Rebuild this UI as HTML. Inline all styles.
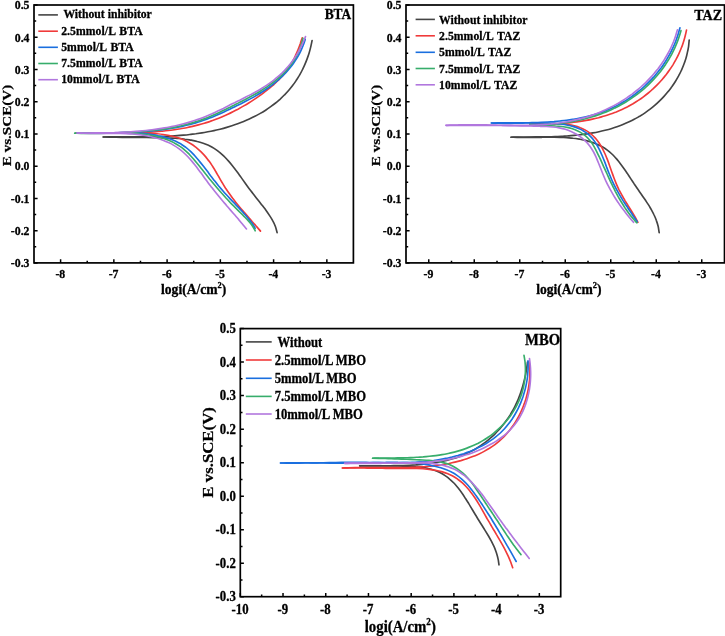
<!DOCTYPE html>
<html><head><meta charset="utf-8"><title>Polarization curves</title>
<style>
html,body{margin:0;padding:0;background:#fff}
svg{display:block}
text{font-family:"Liberation Serif",serif;font-weight:bold;fill:#000;stroke:#000;stroke-width:0.28px;stroke-linejoin:round}
</style></head><body>
<svg width="725" height="636" viewBox="0 0 725 636">
<rect width="725" height="636" fill="#fff"/>
<g id="plot-bta">
<path d="M103.2 137.0C104.2 137.0 107.3 137.0 109.3 136.9C111.4 136.9 113.4 136.9 115.5 136.9C117.6 136.9 119.6 136.9 121.7 136.9C123.7 136.9 125.8 136.9 127.9 136.9C129.9 136.9 132.0 136.9 134.0 136.9C136.1 136.9 138.2 136.9 140.2 136.9C142.3 136.8 144.4 136.8 146.4 136.8C148.5 136.8 150.6 136.7 152.6 136.7C154.7 136.7 156.8 136.6 158.8 136.6C160.9 136.5 163.0 136.4 165.0 136.3C167.1 136.3 169.1 136.2 171.2 136.0C173.3 135.9 175.3 135.8 177.4 135.6C179.4 135.5 181.5 135.3 183.5 135.1C185.6 135.0 187.6 134.8 189.7 134.5C191.7 134.3 193.7 134.0 195.8 133.8C197.8 133.5 199.8 133.2 201.9 132.9C203.9 132.6 205.9 132.2 207.9 131.8C209.9 131.4 212.0 131.0 214.0 130.6C216.0 130.2 218.0 129.7 220.0 129.2C222.0 128.7 224.0 128.2 225.9 127.6C227.9 127.0 229.9 126.4 231.9 125.8C233.8 125.2 235.8 124.5 237.7 123.8C239.7 123.1 241.6 122.3 243.6 121.5C245.5 120.7 247.4 119.9 249.3 119.0C251.1 118.2 253.0 117.3 254.9 116.3C256.7 115.4 258.5 114.4 260.3 113.4C262.1 112.4 263.9 111.3 265.6 110.2C267.3 109.1 269.0 107.9 270.7 106.7C272.4 105.5 274.0 104.3 275.6 103.0C277.2 101.8 278.7 100.4 280.2 99.1C281.7 97.7 283.2 96.3 284.6 94.8C286.0 93.4 287.4 91.9 288.8 90.3C290.1 88.8 291.4 87.2 292.6 85.6C293.8 84.0 295.0 82.3 296.1 80.6C297.3 78.9 298.3 77.1 299.4 75.4C300.4 73.6 301.4 71.8 302.3 70.0C303.2 68.1 304.1 66.3 304.9 64.4C305.7 62.5 306.5 60.5 307.2 58.6C307.9 56.6 308.6 54.7 309.2 52.7C309.8 50.7 310.3 48.7 310.8 46.6C311.3 44.6 311.9 41.5 312.1 40.5" fill="none" stroke="#444444" stroke-width="1.65" stroke-linecap="round" stroke-linejoin="round"/>
<path d="M103.2 137.0C104.3 137.0 107.5 137.1 109.6 137.1C111.8 137.2 113.9 137.2 116.0 137.2C118.1 137.3 120.1 137.3 122.2 137.3C124.3 137.3 126.3 137.4 128.4 137.4C130.4 137.4 132.5 137.4 134.5 137.4C136.6 137.4 138.6 137.5 140.7 137.5C142.7 137.5 144.7 137.5 146.8 137.5C148.9 137.6 150.9 137.6 153.0 137.6C155.1 137.6 157.2 137.7 159.3 137.7C161.4 137.8 163.5 137.8 165.7 137.9C167.8 137.9 169.9 138.0 172.1 138.1C174.2 138.2 176.4 138.4 178.5 138.5C180.7 138.7 182.8 138.9 184.9 139.2C187.1 139.4 189.2 139.8 191.2 140.1C193.3 140.5 195.3 140.9 197.3 141.5C199.3 142.0 201.3 142.6 203.2 143.2C205.2 143.9 207.0 144.7 208.9 145.5C210.7 146.4 212.4 147.3 214.1 148.4C215.8 149.5 217.5 150.6 219.0 151.9C220.6 153.2 222.1 154.5 223.6 155.9C225.1 157.3 226.5 158.9 227.9 160.4C229.3 161.9 230.7 163.6 232.0 165.2C233.3 166.8 234.6 168.5 235.9 170.3C237.2 172.0 238.5 173.7 239.7 175.4C241.0 177.2 242.2 179.0 243.5 180.7C244.7 182.4 245.9 184.2 247.2 185.9C248.4 187.6 249.7 189.3 251.0 191.0C252.2 192.6 253.5 194.2 254.8 195.9C256.0 197.5 257.3 199.1 258.6 200.7C259.9 202.3 261.1 204.0 262.4 205.6C263.6 207.2 264.9 208.8 266.1 210.5C267.3 212.2 268.5 213.9 269.6 215.6C270.7 217.3 271.9 219.1 272.8 220.9C273.8 222.7 274.7 224.6 275.4 226.5C276.1 228.5 276.8 231.6 277.1 232.6" fill="none" stroke="#444444" stroke-width="1.65" stroke-linecap="round" stroke-linejoin="round"/>
<path d="M76.0 133.0C77.0 133.0 80.1 133.0 82.1 133.0C84.2 133.0 86.2 133.0 88.3 133.0C90.3 133.0 92.4 133.0 94.4 133.0C96.5 133.0 98.5 133.0 100.6 133.0C102.6 133.0 104.7 133.1 106.8 133.1C108.8 133.1 110.9 133.1 112.9 133.1C115.0 133.1 117.1 133.1 119.1 133.1C121.2 133.1 123.3 133.0 125.3 133.0C127.4 133.0 129.4 133.0 131.5 132.9C133.6 132.9 135.6 132.8 137.7 132.8C139.7 132.7 141.8 132.6 143.9 132.5C145.9 132.4 148.0 132.3 150.0 132.2C152.1 132.1 154.1 131.9 156.1 131.7C158.2 131.6 160.2 131.4 162.3 131.2C164.3 131.0 166.3 130.8 168.4 130.5C170.4 130.3 172.4 130.0 174.4 129.7C176.5 129.4 178.5 129.1 180.5 128.8C182.5 128.4 184.5 128.1 186.5 127.7C188.5 127.3 190.5 126.9 192.5 126.4C194.4 125.9 196.4 125.4 198.4 124.9C200.4 124.4 202.3 123.9 204.3 123.3C206.2 122.7 208.2 122.0 210.1 121.4C212.1 120.7 214.0 120.0 215.9 119.3C217.8 118.6 219.8 117.8 221.7 117.0C223.6 116.2 225.4 115.4 227.3 114.5C229.2 113.7 231.1 112.8 232.9 111.8C234.8 110.9 236.6 109.9 238.4 109.0C240.2 108.0 242.0 107.0 243.8 105.9C245.6 104.9 247.4 103.8 249.1 102.7C250.9 101.6 252.6 100.5 254.3 99.4C256.1 98.2 257.8 97.0 259.4 95.8C261.1 94.7 262.8 93.4 264.4 92.2C266.0 91.0 267.6 89.7 269.2 88.4C270.8 87.1 272.3 85.8 273.9 84.5C275.4 83.1 276.9 81.8 278.3 80.3C279.7 78.9 281.1 77.5 282.5 76.0C283.8 74.4 285.1 72.9 286.3 71.3C287.5 69.6 288.7 68.0 289.8 66.2C290.9 64.5 291.9 62.7 292.9 60.9C293.9 59.0 294.8 57.1 295.6 55.2C296.5 53.3 297.3 51.4 298.1 49.5C298.9 47.5 299.6 45.6 300.3 43.7C300.9 41.7 301.9 38.9 302.2 37.9" fill="none" stroke="#F03A3A" stroke-width="1.65" stroke-linecap="round" stroke-linejoin="round"/>
<path d="M76.0 133.0C77.1 133.0 80.2 133.0 82.3 133.0C84.4 133.0 86.5 133.0 88.6 133.0C90.7 133.0 92.7 133.0 94.8 133.0C96.8 133.0 98.9 133.0 100.9 133.0C102.9 133.0 105.0 133.0 107.0 133.0C109.0 133.0 111.0 133.0 113.1 133.0C115.1 133.0 117.1 133.0 119.2 133.0C121.2 133.0 123.3 133.0 125.3 133.0C127.4 133.0 129.5 133.0 131.5 133.0C133.6 133.0 135.7 133.0 137.8 133.0C139.9 133.1 142.1 133.1 144.2 133.1C146.3 133.2 148.4 133.3 150.5 133.4C152.7 133.5 154.8 133.6 156.9 133.8C159.0 134.0 161.1 134.2 163.1 134.5C165.2 134.8 167.2 135.1 169.3 135.5C171.3 135.9 173.3 136.4 175.2 137.0C177.2 137.5 179.1 138.1 181.0 138.8C182.9 139.6 184.7 140.4 186.5 141.3C188.3 142.2 190.0 143.2 191.7 144.2C193.4 145.3 195.0 146.6 196.6 147.8C198.1 149.1 199.7 150.5 201.1 151.9C202.6 153.4 204.0 154.9 205.3 156.4C206.7 158.0 207.9 159.7 209.2 161.3C210.4 163.0 211.5 164.7 212.7 166.5C213.8 168.2 214.9 170.0 215.9 171.8C217.0 173.6 218.0 175.5 219.1 177.3C220.1 179.1 221.1 180.9 222.2 182.7C223.2 184.5 224.3 186.3 225.4 188.0C226.6 189.7 227.7 191.4 228.9 193.1C230.1 194.8 231.3 196.4 232.5 198.1C233.8 199.7 235.0 201.3 236.3 202.9C237.6 204.5 238.9 206.1 240.2 207.7C241.5 209.3 242.9 210.8 244.2 212.4C245.5 213.9 246.9 215.5 248.3 217.0C249.6 218.6 251.0 220.1 252.3 221.7C253.7 223.2 255.1 224.8 256.4 226.4C257.8 227.9 259.8 230.3 260.5 231.1" fill="none" stroke="#F03A3A" stroke-width="1.65" stroke-linecap="round" stroke-linejoin="round"/>
<path d="M77.0 132.8C78.0 132.8 81.1 132.8 83.2 132.8C85.3 132.8 87.3 132.8 89.4 132.8C91.5 132.8 93.6 132.8 95.7 132.8C97.8 132.9 99.8 132.9 101.9 132.8C104.0 132.8 106.1 132.8 108.2 132.8C110.3 132.8 112.4 132.8 114.5 132.8C116.6 132.7 118.7 132.7 120.8 132.6C122.9 132.6 125.0 132.5 127.1 132.4C129.2 132.4 131.3 132.3 133.3 132.2C135.4 132.1 137.5 132.0 139.6 131.9C141.7 131.7 143.8 131.6 145.9 131.4C148.0 131.2 150.0 131.1 152.1 130.9C154.2 130.7 156.3 130.4 158.3 130.2C160.4 130.0 162.5 129.7 164.5 129.4C166.6 129.1 168.6 128.8 170.7 128.5C172.7 128.1 174.8 127.8 176.8 127.4C178.8 127.0 180.9 126.6 182.9 126.1C184.9 125.7 186.9 125.2 188.9 124.7C190.9 124.2 192.9 123.6 194.9 123.1C196.9 122.5 198.9 121.9 200.9 121.2C202.8 120.6 204.8 119.9 206.7 119.2C208.7 118.5 210.6 117.7 212.6 117.0C214.5 116.2 216.4 115.4 218.3 114.5C220.2 113.7 222.1 112.8 224.0 111.9C225.9 111.1 227.8 110.2 229.7 109.3C231.6 108.3 233.5 107.4 235.4 106.5C237.2 105.6 239.1 104.6 241.0 103.7C242.9 102.7 244.7 101.8 246.6 100.8C248.4 99.9 250.3 98.9 252.1 97.9C253.9 96.9 255.7 95.8 257.5 94.8C259.3 93.7 261.1 92.6 262.8 91.5C264.6 90.4 266.3 89.2 268.0 88.0C269.7 86.8 271.4 85.6 273.0 84.3C274.6 83.0 276.2 81.7 277.8 80.4C279.4 79.0 280.9 77.6 282.4 76.2C283.8 74.7 285.3 73.3 286.7 71.7C288.0 70.2 289.4 68.6 290.7 67.0C291.9 65.4 293.2 63.8 294.3 62.0C295.5 60.3 296.6 58.6 297.7 56.8C298.7 55.0 299.7 53.2 300.6 51.3C301.5 49.4 302.4 47.5 303.1 45.5C303.9 43.5 304.9 40.4 305.2 39.4" fill="none" stroke="#1A6FDF" stroke-width="1.65" stroke-linecap="round" stroke-linejoin="round"/>
<path d="M77.0 132.8C78.0 132.8 81.2 133.0 83.3 133.0C85.4 133.1 87.5 133.1 89.5 133.1C91.6 133.1 93.7 133.1 95.8 133.1C97.9 133.1 99.9 133.1 102.0 133.0C104.1 133.0 106.2 133.0 108.2 132.9C110.3 132.9 112.4 132.9 114.5 132.9C116.5 132.8 118.6 132.8 120.7 132.8C122.8 132.8 124.9 132.8 127.0 132.8C129.0 132.9 131.1 132.9 133.2 133.0C135.3 133.1 137.4 133.2 139.6 133.3C141.7 133.4 143.8 133.6 145.9 133.8C148.0 134.0 150.1 134.3 152.1 134.6C154.2 134.9 156.3 135.2 158.3 135.7C160.4 136.1 162.4 136.6 164.4 137.1C166.3 137.7 168.3 138.3 170.2 139.0C172.1 139.7 174.0 140.5 175.8 141.3C177.7 142.2 179.4 143.2 181.2 144.2C182.9 145.3 184.6 146.4 186.2 147.7C187.8 148.9 189.3 150.3 190.8 151.7C192.3 153.2 193.8 154.7 195.2 156.2C196.6 157.8 198.0 159.4 199.3 161.1C200.7 162.7 202.0 164.4 203.3 166.1C204.6 167.8 205.9 169.5 207.2 171.1C208.5 172.8 209.7 174.5 211.0 176.2C212.3 177.8 213.5 179.5 214.8 181.1C216.1 182.7 217.4 184.4 218.7 186.0C220.1 187.6 221.4 189.1 222.8 190.7C224.1 192.3 225.5 193.8 226.9 195.3C228.3 196.9 229.8 198.4 231.2 199.9C232.6 201.4 234.1 202.9 235.5 204.4C236.9 205.9 238.4 207.4 239.8 208.9C241.2 210.4 242.7 211.9 244.0 213.5C245.4 215.0 246.8 216.6 248.1 218.2C249.4 219.8 250.7 221.4 251.9 223.1C253.1 224.8 254.7 227.4 255.2 228.3" fill="none" stroke="#1A6FDF" stroke-width="1.65" stroke-linecap="round" stroke-linejoin="round"/>
<path d="M74.7 133.2C75.7 133.2 78.8 133.2 80.9 133.1C83.0 133.1 85.1 133.1 87.2 133.1C89.3 133.1 91.3 133.1 93.4 133.1C95.5 133.0 97.6 133.0 99.7 133.0C101.8 133.0 103.9 133.0 106.0 132.9C108.1 132.9 110.2 132.9 112.3 132.8C114.4 132.8 116.5 132.7 118.7 132.7C120.8 132.6 122.9 132.5 125.0 132.4C127.1 132.4 129.2 132.3 131.3 132.1C133.4 132.0 135.5 131.9 137.6 131.8C139.7 131.6 141.8 131.5 143.9 131.3C145.9 131.1 148.0 130.9 150.1 130.7C152.2 130.5 154.3 130.3 156.4 130.0C158.4 129.8 160.5 129.5 162.6 129.2C164.6 128.9 166.7 128.6 168.8 128.2C170.8 127.9 172.9 127.5 174.9 127.1C176.9 126.7 179.0 126.2 181.0 125.8C183.0 125.3 185.0 124.8 187.0 124.3C189.0 123.8 191.0 123.2 193.0 122.6C195.0 122.0 197.0 121.4 199.0 120.7C200.9 120.0 202.9 119.3 204.9 118.6C206.8 117.9 208.7 117.1 210.7 116.3C212.6 115.5 214.5 114.6 216.4 113.8C218.3 112.9 220.2 112.0 222.1 111.1C224.0 110.2 225.9 109.3 227.8 108.3C229.7 107.4 231.6 106.4 233.5 105.5C235.4 104.5 237.3 103.6 239.1 102.6C241.0 101.7 242.9 100.7 244.8 99.8C246.6 98.8 248.5 97.8 250.3 96.8C252.2 95.8 254.0 94.8 255.8 93.7C257.6 92.7 259.4 91.6 261.2 90.5C263.0 89.4 264.7 88.3 266.5 87.1C268.2 85.9 269.9 84.8 271.6 83.5C273.2 82.3 274.9 81.0 276.5 79.7C278.1 78.4 279.6 77.0 281.1 75.6C282.6 74.2 284.1 72.7 285.5 71.2C286.9 69.7 288.2 68.1 289.5 66.5C290.8 64.9 292.0 63.2 293.1 61.5C294.3 59.8 295.4 58.0 296.4 56.2C297.3 54.3 298.3 52.5 299.1 50.5C299.9 48.6 300.7 46.6 301.3 44.6C302.0 42.5 302.7 39.3 303.0 38.3" fill="none" stroke="#37AD6B" stroke-width="1.65" stroke-linecap="round" stroke-linejoin="round"/>
<path d="M74.7 133.2C75.8 133.2 78.9 133.4 81.1 133.4C83.2 133.4 85.3 133.5 87.4 133.5C89.5 133.5 91.6 133.5 93.7 133.4C95.8 133.4 97.9 133.4 100.0 133.3C102.1 133.3 104.2 133.3 106.3 133.2C108.4 133.2 110.5 133.2 112.6 133.2C114.7 133.1 116.9 133.1 119.0 133.1C121.1 133.1 123.2 133.1 125.3 133.2C127.4 133.2 129.5 133.3 131.7 133.4C133.8 133.5 135.9 133.6 138.0 133.8C140.2 133.9 142.3 134.1 144.4 134.4C146.5 134.6 148.6 134.9 150.7 135.3C152.8 135.6 154.8 136.0 156.9 136.5C158.9 137.0 160.9 137.5 162.9 138.2C164.9 138.8 166.8 139.5 168.7 140.3C170.6 141.1 172.5 141.9 174.3 142.9C176.1 143.8 177.9 144.9 179.6 146.1C181.3 147.2 183.0 148.5 184.5 149.9C186.1 151.2 187.7 152.7 189.2 154.2C190.7 155.8 192.1 157.4 193.5 159.0C194.9 160.7 196.3 162.4 197.7 164.0C199.0 165.7 200.4 167.4 201.7 169.1C203.0 170.8 204.4 172.4 205.7 174.1C207.0 175.7 208.3 177.4 209.6 179.0C211.0 180.6 212.3 182.2 213.6 183.8C214.9 185.4 216.3 187.0 217.6 188.5C219.0 190.1 220.4 191.7 221.8 193.3C223.2 194.8 224.6 196.4 226.0 198.0C227.4 199.5 228.9 201.1 230.3 202.6C231.8 204.1 233.3 205.7 234.8 207.2C236.3 208.7 237.8 210.2 239.3 211.7C240.8 213.1 242.4 214.6 243.8 216.1C245.3 217.6 246.8 219.0 248.2 220.6C249.6 222.1 250.9 223.7 252.1 225.4C253.3 227.1 254.7 229.9 255.2 230.8" fill="none" stroke="#37AD6B" stroke-width="1.65" stroke-linecap="round" stroke-linejoin="round"/>
<path d="M77.0 133.0C78.0 133.0 81.1 133.0 83.2 133.0C85.3 133.0 87.4 133.0 89.4 133.0C91.5 133.0 93.6 133.0 95.7 132.9C97.8 132.9 99.9 132.9 102.0 132.9C104.0 132.8 106.1 132.8 108.2 132.8C110.3 132.7 112.4 132.6 114.5 132.6C116.6 132.5 118.7 132.4 120.8 132.3C122.9 132.2 125.0 132.1 127.1 132.0C129.1 131.9 131.2 131.8 133.3 131.6C135.4 131.5 137.5 131.3 139.6 131.1C141.7 130.9 143.7 130.7 145.8 130.5C147.9 130.3 150.0 130.1 152.0 129.8C154.1 129.5 156.2 129.2 158.2 128.9C160.3 128.6 162.3 128.3 164.4 127.9C166.4 127.6 168.5 127.2 170.5 126.8C172.5 126.4 174.6 126.0 176.6 125.5C178.6 125.0 180.6 124.5 182.6 124.0C184.6 123.5 186.6 123.0 188.6 122.4C190.6 121.8 192.6 121.2 194.5 120.5C196.5 119.9 198.5 119.2 200.4 118.5C202.3 117.8 204.3 117.0 206.2 116.2C208.1 115.4 210.1 114.6 212.0 113.8C213.9 112.9 215.8 112.0 217.7 111.1C219.5 110.2 221.4 109.3 223.3 108.4C225.2 107.4 227.1 106.5 228.9 105.5C230.8 104.6 232.7 103.6 234.6 102.7C236.5 101.7 238.3 100.8 240.2 99.9C242.1 98.9 244.0 98.0 245.8 97.0C247.7 96.1 249.6 95.1 251.4 94.2C253.2 93.2 255.1 92.2 256.9 91.2C258.7 90.2 260.5 89.1 262.3 88.0C264.0 87.0 265.8 85.8 267.5 84.7C269.2 83.5 270.9 82.3 272.5 81.1C274.1 79.8 275.8 78.5 277.3 77.2C278.9 75.9 280.4 74.5 281.9 73.1C283.4 71.6 284.8 70.2 286.2 68.6C287.6 67.1 288.9 65.5 290.2 63.9C291.5 62.3 292.7 60.6 293.9 58.9C295.1 57.2 296.2 55.4 297.3 53.6C298.4 51.8 299.4 50.0 300.3 48.1C301.3 46.3 302.2 44.4 303.1 42.4C303.9 40.5 305.1 37.6 305.5 36.6" fill="none" stroke="#B177DE" stroke-width="1.65" stroke-linecap="round" stroke-linejoin="round"/>
<path d="M77.0 133.0C78.0 133.0 81.1 133.2 83.1 133.3C85.2 133.4 87.3 133.4 89.3 133.4C91.4 133.4 93.4 133.4 95.5 133.4C97.5 133.4 99.6 133.4 101.7 133.4C103.7 133.4 105.8 133.4 107.9 133.3C109.9 133.3 112.0 133.3 114.1 133.3C116.1 133.3 118.2 133.3 120.3 133.4C122.3 133.4 124.4 133.5 126.5 133.6C128.6 133.7 130.7 133.8 132.7 134.0C134.8 134.2 136.9 134.4 138.9 134.6C141.0 134.9 143.1 135.2 145.1 135.5C147.2 135.9 149.2 136.3 151.2 136.7C153.2 137.2 155.2 137.7 157.2 138.3C159.1 138.8 161.0 139.5 162.9 140.2C164.8 140.9 166.7 141.7 168.5 142.6C170.3 143.4 172.1 144.3 173.8 145.4C175.5 146.4 177.2 147.5 178.8 148.7C180.4 149.9 182.0 151.1 183.5 152.5C185.0 153.9 186.5 155.3 187.9 156.8C189.3 158.3 190.7 159.9 192.0 161.4C193.4 163.0 194.7 164.7 196.0 166.3C197.2 168.0 198.5 169.7 199.8 171.4C201.0 173.0 202.3 174.7 203.5 176.4C204.7 178.1 206.0 179.8 207.2 181.4C208.4 183.1 209.7 184.8 210.9 186.4C212.2 188.1 213.4 189.7 214.7 191.3C216.0 192.9 217.3 194.5 218.6 196.1C219.9 197.7 221.2 199.3 222.5 200.8C223.8 202.4 225.2 203.9 226.5 205.5C227.8 207.0 229.2 208.6 230.5 210.1C231.9 211.7 233.2 213.2 234.6 214.8C235.9 216.3 237.2 217.9 238.6 219.4C239.9 221.0 241.2 222.6 242.6 224.2C243.9 225.8 245.8 228.2 246.5 229.0" fill="none" stroke="#B177DE" stroke-width="1.65" stroke-linecap="round" stroke-linejoin="round"/>
<rect x="34.00" y="5.00" width="319.40" height="257.90" fill="none" stroke="#000" stroke-width="1.70"/>
<text transform="translate(60.30 278.10) scale(1 1.087)" text-anchor="middle" font-size="11.80">-8</text>
<text transform="translate(113.55 278.10) scale(1 1.087)" text-anchor="middle" font-size="11.80">-7</text>
<text transform="translate(166.80 278.10) scale(1 1.087)" text-anchor="middle" font-size="11.80">-6</text>
<text transform="translate(220.05 278.10) scale(1 1.087)" text-anchor="middle" font-size="11.80">-5</text>
<text transform="translate(273.30 278.10) scale(1 1.087)" text-anchor="middle" font-size="11.80">-4</text>
<text transform="translate(326.55 278.10) scale(1 1.087)" text-anchor="middle" font-size="11.80">-3</text>
<text transform="translate(29.50 9.30) scale(1 1.087)" text-anchor="end" font-size="11.80">0.5</text>
<text transform="translate(29.50 41.54) scale(1 1.087)" text-anchor="end" font-size="11.80">0.4</text>
<text transform="translate(29.50 73.77) scale(1 1.087)" text-anchor="end" font-size="11.80">0.3</text>
<text transform="translate(29.50 106.01) scale(1 1.087)" text-anchor="end" font-size="11.80">0.2</text>
<text transform="translate(29.50 138.25) scale(1 1.087)" text-anchor="end" font-size="11.80">0.1</text>
<text transform="translate(29.50 170.49) scale(1 1.087)" text-anchor="end" font-size="11.80">0.0</text>
<text transform="translate(29.50 202.72) scale(1 1.087)" text-anchor="end" font-size="11.80">-0.1</text>
<text transform="translate(29.50 234.96) scale(1 1.087)" text-anchor="end" font-size="11.80">-0.2</text>
<text transform="translate(29.50 267.20) scale(1 1.087)" text-anchor="end" font-size="11.80">-0.3</text>
<path d="M60.60 262.90v-3.6M113.85 262.90v-3.6M167.10 262.90v-3.6M220.35 262.90v-3.6M273.60 262.90v-3.6M326.85 262.90v-3.6M87.22 262.90v-2.2M140.47 262.90v-2.2M193.72 262.90v-2.2M246.97 262.90v-2.2M300.23 262.90v-2.2M34.00 5.00h3.6M34.00 21.12h2.2M34.00 37.24h3.6M34.00 53.36h2.2M34.00 69.47h3.6M34.00 85.59h2.2M34.00 101.71h3.6M34.00 117.83h2.2M34.00 133.95h3.6M34.00 150.07h2.2M34.00 166.19h3.6M34.00 182.31h2.2M34.00 198.42h3.6M34.00 214.54h2.2M34.00 230.66h3.6M34.00 246.78h2.2M34.00 262.90h3.6" stroke="#000" stroke-width="1.5" fill="none"/>
<path d="M38.3 14.9H57.9" stroke="#444444" stroke-width="1.60"/>
<text transform="translate(63.40 18.40) scale(1 1.100)" font-size="11.70">Without inhibitor</text>
<path d="M38.3 31.2H57.9" stroke="#F03A3A" stroke-width="1.60"/>
<text transform="translate(61.20 34.70) scale(1 1.100)" font-size="11.70" letter-spacing="0.07" word-spacing="1">2.5mmol/L BTA</text>
<path d="M38.3 47.3H57.9" stroke="#1A6FDF" stroke-width="1.60"/>
<text transform="translate(61.20 50.80) scale(1 1.100)" font-size="11.70" letter-spacing="0.07" word-spacing="1">5mmol/L BTA</text>
<path d="M38.3 63.5H57.9" stroke="#37AD6B" stroke-width="1.60"/>
<text transform="translate(61.20 67.00) scale(1 1.100)" font-size="11.70" letter-spacing="0.07" word-spacing="1">7.5mmol/L BTA</text>
<path d="M38.3 79.7H57.9" stroke="#B177DE" stroke-width="1.60"/>
<text transform="translate(61.20 83.20) scale(1 1.100)" font-size="11.70" letter-spacing="0.07" word-spacing="1">10mmol/L BTA</text>
<text transform="translate(351.20 18.90) scale(1 1.090)" text-anchor="end" font-size="13.40">BTA</text>
<text transform="translate(193.70 294.20) scale(1 1.080)" text-anchor="middle" font-size="13.60">logi(A/cm<tspan font-size="8.43" dy="-5.71">2</tspan><tspan dy="5.71">)</tspan></text>
<text transform="translate(10.70 125.50) rotate(-90) scale(1 0.880)" text-anchor="middle" font-size="15.10">E vs.SCE(V)</text>
</g>
<g id="plot-taz">
<path d="M511.0 137.2C512.0 137.2 515.1 137.1 517.2 137.1C519.2 137.1 521.3 137.1 523.4 137.0C525.5 137.0 527.6 137.0 529.7 137.0C531.8 137.0 533.9 137.0 536.0 136.9C538.1 136.9 540.2 136.9 542.3 136.9C544.4 136.8 546.5 136.8 548.7 136.7C550.8 136.7 552.9 136.6 555.0 136.5C557.1 136.5 559.3 136.4 561.4 136.3C563.5 136.2 565.6 136.0 567.7 135.9C569.8 135.7 571.9 135.6 574.0 135.4C576.2 135.2 578.3 135.0 580.4 134.7C582.4 134.5 584.5 134.2 586.6 133.9C588.7 133.6 590.8 133.3 592.8 132.9C594.9 132.6 596.9 132.2 599.0 131.7C601.0 131.3 603.1 130.8 605.1 130.3C607.1 129.8 609.1 129.3 611.1 128.7C613.1 128.1 615.1 127.5 617.0 126.8C619.0 126.1 621.0 125.4 622.9 124.6C624.8 123.8 626.7 123.0 628.6 122.1C630.5 121.2 632.4 120.3 634.2 119.3C636.1 118.4 637.9 117.3 639.7 116.3C641.5 115.2 643.3 114.1 645.0 112.9C646.7 111.7 648.4 110.5 650.1 109.2C651.8 107.9 653.4 106.6 655.0 105.2C656.6 103.8 658.1 102.4 659.6 100.9C661.1 99.5 662.6 98.0 664.0 96.4C665.5 94.8 666.8 93.2 668.1 91.6C669.5 90.0 670.7 88.3 672.0 86.6C673.2 84.9 674.4 83.1 675.5 81.3C676.6 79.5 677.6 77.7 678.6 75.9C679.6 74.0 680.6 72.2 681.4 70.3C682.3 68.3 683.1 66.4 683.8 64.5C684.6 62.5 685.3 60.5 685.9 58.5C686.5 56.5 687.0 54.5 687.4 52.4C687.9 50.4 688.3 48.3 688.6 46.3C688.8 44.2 689.1 41.0 689.2 40.0" fill="none" stroke="#444444" stroke-width="1.65" stroke-linecap="round" stroke-linejoin="round"/>
<path d="M511.0 137.2C512.0 137.2 515.2 137.4 517.2 137.4C519.3 137.5 521.4 137.5 523.4 137.5C525.5 137.5 527.5 137.5 529.6 137.4C531.6 137.4 533.7 137.4 535.7 137.4C537.8 137.3 539.8 137.3 541.9 137.3C543.9 137.2 546.0 137.2 548.0 137.2C550.1 137.2 552.1 137.2 554.2 137.2C556.3 137.2 558.4 137.3 560.5 137.4C562.6 137.5 564.7 137.6 566.8 137.7C568.9 137.9 571.0 138.0 573.1 138.3C575.1 138.5 577.2 138.8 579.3 139.1C581.3 139.5 583.4 139.9 585.4 140.4C587.4 140.9 589.4 141.4 591.3 142.0C593.3 142.7 595.2 143.4 597.0 144.2C598.8 145.0 600.6 145.8 602.3 146.8C604.1 147.8 605.7 148.9 607.3 150.1C608.9 151.3 610.4 152.6 611.9 154.0C613.4 155.4 614.7 156.9 616.1 158.4C617.4 159.9 618.7 161.6 620.0 163.2C621.3 164.9 622.5 166.6 623.7 168.3C624.9 170.0 626.1 171.7 627.3 173.4C628.4 175.1 629.6 176.9 630.7 178.6C631.9 180.4 633.0 182.1 634.2 183.9C635.4 185.6 636.5 187.3 637.7 189.1C638.9 190.8 640.1 192.5 641.3 194.2C642.4 195.9 643.6 197.6 644.8 199.3C645.9 201.0 647.1 202.7 648.2 204.4C649.3 206.1 650.3 207.9 651.3 209.6C652.3 211.4 653.3 213.2 654.1 215.0C655.0 216.9 655.8 218.7 656.4 220.6C657.1 222.5 657.7 224.5 658.2 226.5C658.6 228.5 659.0 231.7 659.2 232.7" fill="none" stroke="#444444" stroke-width="1.65" stroke-linecap="round" stroke-linejoin="round"/>
<path d="M530.0 123.9C531.0 123.9 534.1 124.0 536.1 124.0C538.2 124.1 540.3 124.1 542.3 124.1C544.4 124.1 546.5 124.1 548.6 124.0C550.7 124.0 552.8 123.9 554.9 123.8C556.9 123.7 559.0 123.6 561.1 123.5C563.2 123.3 565.3 123.2 567.4 123.0C569.5 122.8 571.6 122.5 573.7 122.3C575.8 122.0 577.9 121.7 580.0 121.4C582.1 121.1 584.1 120.8 586.2 120.4C588.3 120.0 590.3 119.6 592.4 119.1C594.4 118.7 596.5 118.2 598.5 117.7C600.5 117.1 602.5 116.6 604.5 116.0C606.5 115.4 608.5 114.7 610.5 114.0C612.4 113.4 614.4 112.6 616.3 111.9C618.2 111.1 620.1 110.3 622.0 109.4C623.9 108.6 625.7 107.6 627.6 106.7C629.4 105.7 631.2 104.7 633.0 103.7C634.8 102.6 636.6 101.5 638.3 100.4C640.0 99.3 641.7 98.1 643.4 96.8C645.0 95.6 646.7 94.3 648.3 93.0C649.9 91.7 651.4 90.3 653.0 88.9C654.5 87.5 656.0 86.1 657.4 84.6C658.9 83.1 660.3 81.6 661.7 80.0C663.0 78.5 664.4 76.9 665.6 75.3C666.9 73.6 668.2 72.0 669.3 70.3C670.5 68.6 671.7 66.8 672.8 65.1C673.9 63.3 674.9 61.5 675.9 59.7C676.9 57.8 677.8 56.0 678.7 54.1C679.6 52.2 680.4 50.3 681.2 48.3C682.0 46.4 682.7 44.4 683.3 42.4C684.0 40.4 684.6 38.4 685.1 36.3C685.6 34.3 686.3 31.1 686.5 30.1" fill="none" stroke="#F03A3A" stroke-width="1.65" stroke-linecap="round" stroke-linejoin="round"/>
<path d="M530.0 123.9C531.0 123.9 534.0 124.0 536.1 124.0C538.2 124.0 540.3 123.9 542.4 123.9C544.5 123.8 546.7 123.8 548.8 123.7C551.0 123.7 553.1 123.6 555.3 123.6C557.5 123.7 559.6 123.7 561.8 123.8C563.9 124.0 566.1 124.2 568.2 124.5C570.3 124.8 572.4 125.2 574.4 125.7C576.4 126.2 578.4 126.9 580.3 127.7C582.3 128.4 584.1 129.3 585.9 130.4C587.7 131.4 589.3 132.6 590.9 133.9C592.5 135.2 593.9 136.6 595.3 138.1C596.6 139.7 597.9 141.3 599.1 143.0C600.2 144.7 601.3 146.5 602.3 148.4C603.3 150.2 604.2 152.1 605.1 154.0C605.9 155.9 606.7 157.9 607.5 159.9C608.3 161.9 609.0 163.9 609.7 165.9C610.4 167.9 611.1 169.9 611.8 171.9C612.5 173.9 613.2 176.0 614.0 178.0C614.7 179.9 615.5 181.9 616.3 183.9C617.1 185.8 618.0 187.7 618.9 189.6C619.9 191.5 620.9 193.3 621.9 195.2C622.9 197.0 624.0 198.8 625.0 200.6C626.1 202.4 627.2 204.2 628.3 206.0C629.4 207.7 630.5 209.5 631.6 211.3C632.7 213.1 633.8 214.9 634.9 216.7C635.9 218.6 637.4 221.4 637.9 222.3" fill="none" stroke="#F03A3A" stroke-width="1.65" stroke-linecap="round" stroke-linejoin="round"/>
<path d="M491.4 123.0C492.4 123.0 495.5 122.9 497.5 122.9C499.6 122.9 501.6 122.9 503.7 122.8C505.8 122.8 507.8 122.8 509.9 122.8C512.0 122.8 514.1 122.8 516.2 122.8C518.3 122.8 520.4 122.8 522.5 122.7C524.6 122.7 526.7 122.7 528.8 122.7C530.9 122.6 533.0 122.6 535.1 122.5C537.2 122.5 539.3 122.4 541.4 122.3C543.5 122.2 545.6 122.1 547.7 122.0C549.8 121.9 551.9 121.7 554.0 121.6C556.1 121.4 558.2 121.2 560.3 121.0C562.3 120.8 564.4 120.6 566.5 120.3C568.6 120.1 570.6 119.8 572.7 119.4C574.7 119.1 576.8 118.8 578.8 118.4C580.9 118.0 582.9 117.6 584.9 117.1C586.9 116.7 588.9 116.2 590.9 115.6C592.9 115.1 594.9 114.5 596.8 113.9C598.8 113.3 600.7 112.6 602.7 111.9C604.6 111.2 606.5 110.4 608.4 109.6C610.3 108.8 612.2 107.9 614.1 107.0C615.9 106.1 617.8 105.1 619.6 104.1C621.4 103.2 623.2 102.1 625.0 101.0C626.7 99.9 628.5 98.8 630.2 97.6C631.9 96.5 633.6 95.2 635.3 94.0C636.9 92.7 638.6 91.4 640.1 90.1C641.7 88.8 643.3 87.4 644.8 86.0C646.4 84.6 647.9 83.1 649.3 81.7C650.8 80.2 652.2 78.6 653.6 77.1C655.0 75.5 656.4 74.0 657.7 72.3C659.0 70.7 660.2 69.1 661.5 67.4C662.7 65.7 663.9 64.0 665.0 62.2C666.1 60.5 667.2 58.7 668.2 56.9C669.3 55.1 670.3 53.3 671.2 51.4C672.1 49.5 673.0 47.6 673.9 45.7C674.7 43.8 675.5 41.9 676.2 39.9C676.9 38.0 677.6 36.0 678.2 34.0C678.8 32.0 679.6 28.9 679.9 27.9" fill="none" stroke="#1A6FDF" stroke-width="1.65" stroke-linecap="round" stroke-linejoin="round"/>
<path d="M491.4 123.0C492.5 123.0 495.7 123.2 497.8 123.2C499.9 123.3 502.0 123.3 504.1 123.3C506.2 123.3 508.2 123.3 510.3 123.3C512.3 123.3 514.4 123.2 516.5 123.2C518.5 123.2 520.6 123.1 522.6 123.1C524.7 123.1 526.7 123.0 528.8 123.0C530.9 123.0 532.9 122.9 535.0 122.9C537.1 122.9 539.2 122.9 541.3 123.0C543.4 123.0 545.5 123.0 547.7 123.1C549.8 123.2 552.0 123.3 554.1 123.4C556.3 123.6 558.4 123.7 560.6 124.0C562.7 124.3 564.8 124.6 566.8 125.0C568.9 125.4 570.9 125.8 572.9 126.4C574.9 127.0 576.8 127.7 578.6 128.5C580.5 129.2 582.2 130.1 583.9 131.2C585.6 132.2 587.2 133.3 588.7 134.6C590.1 135.9 591.5 137.4 592.8 138.9C594.1 140.5 595.2 142.2 596.3 144.0C597.4 145.8 598.4 147.7 599.4 149.6C600.3 151.5 601.2 153.5 602.1 155.5C602.9 157.5 603.7 159.5 604.5 161.4C605.3 163.4 606.0 165.4 606.7 167.4C607.5 169.4 608.2 171.3 609.0 173.3C609.8 175.2 610.6 177.1 611.4 179.0C612.2 180.9 613.1 182.8 614.0 184.7C614.9 186.5 615.9 188.4 616.9 190.2C617.9 192.0 618.9 193.8 620.0 195.6C621.0 197.3 622.1 199.1 623.2 200.9C624.3 202.6 625.5 204.4 626.6 206.1C627.8 207.8 628.9 209.6 630.1 211.3C631.3 213.0 632.5 214.8 633.6 216.5C634.8 218.2 636.6 220.8 637.2 221.7" fill="none" stroke="#1A6FDF" stroke-width="1.65" stroke-linecap="round" stroke-linejoin="round"/>
<path d="M530.0 124.6C531.0 124.6 534.1 124.7 536.2 124.7C538.2 124.7 540.3 124.7 542.3 124.6C544.4 124.5 546.5 124.5 548.5 124.3C550.6 124.2 552.7 124.1 554.8 123.9C556.8 123.7 558.9 123.5 561.0 123.3C563.0 123.0 565.1 122.7 567.1 122.4C569.2 122.1 571.3 121.8 573.3 121.4C575.3 121.0 577.4 120.6 579.4 120.2C581.4 119.7 583.5 119.2 585.5 118.7C587.5 118.2 589.5 117.6 591.5 117.0C593.5 116.4 595.4 115.8 597.4 115.1C599.4 114.5 601.3 113.8 603.2 113.0C605.2 112.3 607.1 111.5 609.0 110.7C610.9 109.9 612.7 109.0 614.6 108.1C616.4 107.2 618.3 106.3 620.1 105.3C621.9 104.3 623.7 103.3 625.5 102.2C627.2 101.2 629.0 100.1 630.7 98.9C632.4 97.8 634.1 96.6 635.7 95.4C637.4 94.2 639.0 92.9 640.6 91.6C642.2 90.3 643.8 89.0 645.3 87.6C646.9 86.2 648.4 84.8 649.8 83.4C651.3 81.9 652.7 80.4 654.1 78.9C655.5 77.4 656.9 75.9 658.2 74.3C659.5 72.7 660.8 71.1 662.0 69.4C663.2 67.8 664.4 66.1 665.6 64.4C666.7 62.7 667.8 60.9 668.9 59.2C669.9 57.4 671.0 55.6 671.9 53.8C672.9 51.9 673.8 50.1 674.7 48.2C675.5 46.3 676.3 44.4 677.1 42.4C677.9 40.5 678.6 38.5 679.2 36.5C679.9 34.5 680.7 31.5 681.0 30.5" fill="none" stroke="#37AD6B" stroke-width="1.65" stroke-linecap="round" stroke-linejoin="round"/>
<path d="M530.0 124.6C531.0 124.7 534.0 125.1 536.1 125.2C538.2 125.4 540.3 125.4 542.5 125.5C544.6 125.6 546.8 125.6 549.0 125.7C551.2 125.8 553.4 125.8 555.6 126.0C557.8 126.1 560.0 126.3 562.1 126.5C564.2 126.8 566.4 127.2 568.4 127.6C570.5 128.1 572.5 128.7 574.5 129.5C576.4 130.2 578.3 131.1 580.1 132.1C581.9 133.2 583.7 134.3 585.2 135.6C586.8 136.9 588.3 138.4 589.6 140.0C590.9 141.6 592.1 143.3 593.2 145.1C594.3 146.9 595.3 148.8 596.2 150.7C597.2 152.6 598.1 154.6 599.1 156.5C600.0 158.5 600.9 160.4 601.8 162.4C602.7 164.3 603.5 166.3 604.4 168.2C605.3 170.1 606.2 172.1 607.1 174.0C608.0 176.0 608.8 177.9 609.7 179.8C610.6 181.8 611.6 183.7 612.5 185.6C613.4 187.5 614.4 189.4 615.3 191.3C616.3 193.1 617.3 195.0 618.3 196.8C619.4 198.7 620.4 200.5 621.5 202.3C622.6 204.1 623.7 205.9 624.9 207.7C626.1 209.4 627.3 211.2 628.6 212.9C629.8 214.6 631.1 216.3 632.5 217.9C633.9 219.6 636.1 222.0 636.8 222.8" fill="none" stroke="#37AD6B" stroke-width="1.65" stroke-linecap="round" stroke-linejoin="round"/>
<path d="M446.0 125.3C447.0 125.3 450.1 125.1 452.1 125.0C454.2 125.0 456.2 124.9 458.3 124.9C460.3 124.8 462.4 124.8 464.4 124.8C466.5 124.8 468.6 124.8 470.6 124.8C472.7 124.8 474.8 124.8 476.8 124.8C478.9 124.8 481.0 124.9 483.1 124.9C485.1 124.9 487.2 125.0 489.3 125.0C491.4 125.1 493.5 125.1 495.5 125.1C497.6 125.2 499.7 125.2 501.8 125.3C503.9 125.3 506.0 125.3 508.0 125.3C510.1 125.4 512.2 125.4 514.3 125.4C516.4 125.4 518.4 125.4 520.5 125.4C522.6 125.4 524.7 125.3 526.7 125.3C528.8 125.3 530.9 125.2 533.0 125.1C535.0 125.0 537.1 125.0 539.1 124.8C541.2 124.7 543.3 124.6 545.3 124.4C547.4 124.3 549.4 124.1 551.5 123.9C553.5 123.7 555.6 123.4 557.6 123.2C559.6 122.9 561.6 122.6 563.7 122.3C565.7 122.0 567.7 121.6 569.7 121.2C571.7 120.8 573.7 120.4 575.7 119.9C577.7 119.5 579.7 119.0 581.7 118.4C583.7 117.9 585.7 117.3 587.6 116.7C589.6 116.1 591.5 115.4 593.5 114.7C595.4 114.0 597.4 113.3 599.3 112.5C601.2 111.7 603.1 110.9 605.0 110.0C606.9 109.2 608.7 108.3 610.6 107.3C612.4 106.4 614.3 105.4 616.1 104.4C617.9 103.4 619.7 102.3 621.5 101.2C623.2 100.2 625.0 99.0 626.7 97.9C628.4 96.7 630.1 95.5 631.8 94.3C633.4 93.1 635.1 91.8 636.7 90.5C638.3 89.2 639.8 87.9 641.4 86.5C642.9 85.1 644.4 83.7 645.9 82.3C647.4 80.9 648.8 79.4 650.2 77.9C651.6 76.4 653.0 74.9 654.3 73.3C655.7 71.7 656.9 70.1 658.2 68.5C659.4 66.9 660.6 65.2 661.8 63.5C663.0 61.8 664.1 60.1 665.1 58.3C666.2 56.6 667.2 54.8 668.2 53.0C669.2 51.2 670.1 49.3 671.0 47.5C671.9 45.6 672.7 43.7 673.5 41.8C674.2 39.9 674.9 37.9 675.6 35.9C676.3 33.9 677.1 30.9 677.4 29.9" fill="none" stroke="#B177DE" stroke-width="1.65" stroke-linecap="round" stroke-linejoin="round"/>
<path d="M446.0 125.3C447.0 125.3 450.2 125.3 452.3 125.3C454.3 125.3 456.4 125.4 458.5 125.4C460.6 125.4 462.7 125.4 464.8 125.4C466.9 125.4 469.0 125.4 471.1 125.4C473.2 125.4 475.3 125.4 477.4 125.4C479.5 125.4 481.6 125.4 483.7 125.4C485.8 125.4 487.9 125.4 490.0 125.4C492.1 125.5 494.2 125.5 496.3 125.5C498.3 125.5 500.4 125.5 502.5 125.5C504.6 125.6 506.7 125.6 508.8 125.6C510.8 125.6 512.9 125.7 515.0 125.7C517.0 125.8 519.1 125.8 521.2 125.8C523.3 125.9 525.4 125.9 527.4 126.0C529.5 126.0 531.6 126.1 533.8 126.1C535.9 126.2 538.0 126.2 540.1 126.3C542.3 126.3 544.4 126.4 546.6 126.5C548.7 126.6 550.9 126.8 553.0 127.0C555.1 127.2 557.2 127.5 559.2 127.9C561.3 128.3 563.3 128.7 565.3 129.3C567.3 129.9 569.2 130.6 571.1 131.4C573.0 132.2 574.8 133.2 576.5 134.2C578.2 135.2 579.9 136.4 581.5 137.6C583.1 138.9 584.6 140.2 586.0 141.7C587.4 143.1 588.7 144.7 589.9 146.3C591.1 148.0 592.2 149.7 593.3 151.5C594.3 153.3 595.2 155.2 596.1 157.1C596.9 159.1 597.7 161.1 598.5 163.0C599.3 165.0 600.1 167.0 600.9 169.0C601.7 171.0 602.4 173.0 603.3 175.0C604.1 177.0 604.9 178.9 605.8 180.8C606.7 182.7 607.6 184.6 608.6 186.4C609.5 188.3 610.5 190.1 611.6 191.9C612.6 193.7 613.6 195.5 614.7 197.2C615.8 199.0 616.9 200.7 618.1 202.4C619.2 204.2 620.4 205.9 621.6 207.5C622.9 209.2 624.1 210.9 625.4 212.5C626.7 214.2 628.0 215.8 629.4 217.5C630.7 219.1 632.8 221.5 633.5 222.3" fill="none" stroke="#B177DE" stroke-width="1.65" stroke-linecap="round" stroke-linejoin="round"/>
<rect x="406.00" y="5.00" width="318.50" height="257.90" fill="none" stroke="#000" stroke-width="1.70"/>
<text transform="translate(428.45 278.10) scale(1 1.087)" text-anchor="middle" font-size="11.80">-9</text>
<text transform="translate(473.95 278.10) scale(1 1.087)" text-anchor="middle" font-size="11.80">-8</text>
<text transform="translate(519.45 278.10) scale(1 1.087)" text-anchor="middle" font-size="11.80">-7</text>
<text transform="translate(564.95 278.10) scale(1 1.087)" text-anchor="middle" font-size="11.80">-6</text>
<text transform="translate(610.45 278.10) scale(1 1.087)" text-anchor="middle" font-size="11.80">-5</text>
<text transform="translate(655.95 278.10) scale(1 1.087)" text-anchor="middle" font-size="11.80">-4</text>
<text transform="translate(701.45 278.10) scale(1 1.087)" text-anchor="middle" font-size="11.80">-3</text>
<text transform="translate(401.50 9.30) scale(1 1.087)" text-anchor="end" font-size="11.80">0.5</text>
<text transform="translate(401.50 41.54) scale(1 1.087)" text-anchor="end" font-size="11.80">0.4</text>
<text transform="translate(401.50 73.77) scale(1 1.087)" text-anchor="end" font-size="11.80">0.3</text>
<text transform="translate(401.50 106.01) scale(1 1.087)" text-anchor="end" font-size="11.80">0.2</text>
<text transform="translate(401.50 138.25) scale(1 1.087)" text-anchor="end" font-size="11.80">0.1</text>
<text transform="translate(401.50 170.49) scale(1 1.087)" text-anchor="end" font-size="11.80">0.0</text>
<text transform="translate(401.50 202.72) scale(1 1.087)" text-anchor="end" font-size="11.80">-0.1</text>
<text transform="translate(401.50 234.96) scale(1 1.087)" text-anchor="end" font-size="11.80">-0.2</text>
<text transform="translate(401.50 267.20) scale(1 1.087)" text-anchor="end" font-size="11.80">-0.3</text>
<path d="M428.75 262.90v-3.6M474.25 262.90v-3.6M519.75 262.90v-3.6M565.25 262.90v-3.6M610.75 262.90v-3.6M656.25 262.90v-3.6M701.75 262.90v-3.6M451.50 262.90v-2.2M497.00 262.90v-2.2M542.50 262.90v-2.2M588.00 262.90v-2.2M633.50 262.90v-2.2M679.00 262.90v-2.2M406.00 5.00h3.6M406.00 21.12h2.2M406.00 37.24h3.6M406.00 53.36h2.2M406.00 69.47h3.6M406.00 85.59h2.2M406.00 101.71h3.6M406.00 117.83h2.2M406.00 133.95h3.6M406.00 150.07h2.2M406.00 166.19h3.6M406.00 182.31h2.2M406.00 198.42h3.6M406.00 214.54h2.2M406.00 230.66h3.6M406.00 246.78h2.2M406.00 262.90h3.6" stroke="#000" stroke-width="1.5" fill="none"/>
<path d="M415.6 19.4H434.9" stroke="#444444" stroke-width="1.60"/>
<text transform="translate(439.00 23.50) scale(1 1.100)" font-size="11.70">Without inhibitor</text>
<path d="M415.6 35.8H434.9" stroke="#F03A3A" stroke-width="1.60"/>
<text transform="translate(439.00 39.90) scale(1 1.100)" font-size="11.70" letter-spacing="0.07" word-spacing="1">2.5mmol/L TAZ</text>
<path d="M415.6 52.3H434.9" stroke="#1A6FDF" stroke-width="1.60"/>
<text transform="translate(439.00 56.40) scale(1 1.100)" font-size="11.70" letter-spacing="0.07" word-spacing="1">5mmol/L TAZ</text>
<path d="M415.6 68.5H434.9" stroke="#37AD6B" stroke-width="1.60"/>
<text transform="translate(439.00 72.60) scale(1 1.100)" font-size="11.70" letter-spacing="0.07" word-spacing="1">7.5mmol/L TAZ</text>
<path d="M415.6 84.8H434.9" stroke="#B177DE" stroke-width="1.60"/>
<text transform="translate(439.00 88.90) scale(1 1.100)" font-size="11.70" letter-spacing="0.07" word-spacing="1">10mmol/L TAZ</text>
<text transform="translate(722.20 19.60) scale(1 1.070)" text-anchor="end" font-size="14.10">TAZ</text>
<text transform="translate(568.80 294.20) scale(1 1.080)" text-anchor="middle" font-size="13.60">logi(A/cm<tspan font-size="8.43" dy="-5.71">2</tspan><tspan dy="5.71">)</tspan></text>
<text transform="translate(380.30 125.50) rotate(-90) scale(1 0.880)" text-anchor="middle" font-size="15.10">E vs.SCE(V)</text>
</g>
<g id="plot-mbo">
<path d="M359.7 465.8C360.7 465.8 363.7 465.7 365.7 465.7C367.7 465.7 369.8 465.7 371.8 465.7C373.9 465.7 375.9 465.7 378.0 465.7C380.1 465.7 382.1 465.7 384.2 465.7C386.3 465.7 388.4 465.7 390.5 465.7C392.6 465.7 394.7 465.6 396.8 465.6C398.9 465.6 401.0 465.5 403.1 465.5C405.3 465.4 407.4 465.3 409.5 465.2C411.6 465.1 413.7 465.0 415.8 464.9C417.9 464.7 420.0 464.6 422.1 464.4C424.2 464.2 426.2 463.9 428.3 463.7C430.4 463.4 432.5 463.1 434.5 462.8C436.6 462.5 438.6 462.1 440.6 461.7C442.7 461.3 444.7 460.9 446.7 460.4C448.7 459.9 450.6 459.4 452.6 458.8C454.6 458.2 456.5 457.6 458.4 456.9C460.3 456.2 462.2 455.5 464.1 454.7C466.0 453.9 467.8 453.0 469.6 452.1C471.5 451.2 473.3 450.2 475.0 449.2C476.8 448.2 478.5 447.1 480.2 445.9C481.9 444.8 483.6 443.6 485.2 442.4C486.9 441.1 488.5 439.8 490.0 438.4C491.6 437.1 493.1 435.7 494.6 434.3C496.1 432.8 497.5 431.3 498.9 429.8C500.3 428.2 501.7 426.7 503.0 425.0C504.3 423.4 505.5 421.8 506.7 420.1C507.9 418.4 509.1 416.6 510.2 414.9C511.3 413.1 512.3 411.3 513.3 409.5C514.3 407.6 515.3 405.8 516.1 403.9C517.0 402.0 517.9 400.1 518.6 398.2C519.4 396.2 520.2 394.3 520.8 392.3C521.5 390.3 522.1 388.3 522.7 386.3C523.3 384.3 523.8 382.3 524.3 380.3C524.8 378.3 525.3 376.2 525.7 374.2C526.0 372.2 526.4 370.1 526.7 368.1C527.0 366.1 527.4 363.0 527.5 362.0" fill="none" stroke="#444444" stroke-width="1.65" stroke-linecap="round" stroke-linejoin="round"/>
<path d="M359.7 465.8C360.7 465.8 363.8 465.9 365.9 466.0C368.0 466.0 370.1 466.0 372.1 466.0C374.2 466.1 376.3 466.0 378.4 466.0C380.4 466.0 382.5 466.0 384.6 466.0C386.7 466.0 388.7 466.0 390.8 466.0C392.9 466.0 395.0 466.0 397.1 466.0C399.2 466.0 401.3 466.0 403.4 466.1C405.5 466.1 407.6 466.2 409.7 466.3C411.8 466.4 413.9 466.5 416.0 466.7C418.1 466.8 420.2 467.0 422.3 467.3C424.4 467.6 426.4 468.0 428.4 468.5C430.4 468.9 432.4 469.5 434.3 470.2C436.2 470.8 438.1 471.6 439.9 472.5C441.7 473.5 443.4 474.5 445.1 475.6C446.8 476.7 448.4 477.9 449.9 479.3C451.5 480.6 452.9 482.0 454.4 483.5C455.8 485.0 457.1 486.6 458.4 488.2C459.7 489.8 460.9 491.5 462.1 493.3C463.3 495.0 464.4 496.8 465.5 498.6C466.7 500.3 467.8 502.2 468.9 503.9C470.0 505.7 471.0 507.5 472.1 509.3C473.2 511.1 474.3 512.9 475.4 514.7C476.5 516.5 477.5 518.3 478.6 520.0C479.7 521.8 480.8 523.6 481.9 525.3C483.0 527.1 484.1 528.9 485.2 530.6C486.3 532.4 487.4 534.2 488.5 536.0C489.5 537.8 490.5 539.6 491.5 541.4C492.4 543.2 493.3 545.1 494.2 546.9C495.0 548.8 495.7 550.7 496.4 552.7C497.0 554.6 497.6 556.6 498.0 558.6C498.5 560.6 498.8 563.8 499.0 564.8" fill="none" stroke="#444444" stroke-width="1.65" stroke-linecap="round" stroke-linejoin="round"/>
<path d="M342.4 468.0C343.4 468.0 346.5 467.8 348.6 467.8C350.6 467.7 352.7 467.6 354.7 467.6C356.8 467.6 358.9 467.5 361.0 467.5C363.1 467.5 365.1 467.5 367.2 467.5C369.3 467.5 371.4 467.5 373.5 467.5C375.6 467.5 377.7 467.5 379.8 467.6C381.9 467.6 384.1 467.6 386.2 467.6C388.3 467.6 390.4 467.6 392.5 467.6C394.6 467.6 396.7 467.6 398.8 467.6C401.0 467.6 403.1 467.6 405.2 467.5C407.3 467.5 409.4 467.4 411.5 467.3C413.6 467.3 415.7 467.2 417.8 467.1C419.9 467.0 422.0 466.8 424.1 466.7C426.2 466.5 428.3 466.3 430.3 466.1C432.4 465.9 434.5 465.7 436.6 465.4C438.6 465.2 440.7 464.9 442.7 464.5C444.8 464.2 446.8 463.9 448.9 463.5C450.9 463.0 452.9 462.6 454.9 462.1C456.9 461.6 458.9 461.1 460.9 460.6C462.9 460.0 464.9 459.4 466.9 458.7C468.8 458.1 470.8 457.4 472.7 456.6C474.7 455.8 476.6 455.0 478.5 454.2C480.4 453.3 482.3 452.4 484.1 451.4C485.9 450.4 487.7 449.4 489.5 448.3C491.2 447.2 493.0 446.0 494.6 444.8C496.3 443.6 497.9 442.3 499.5 440.9C501.0 439.6 502.6 438.2 504.0 436.7C505.5 435.2 506.9 433.7 508.2 432.1C509.5 430.5 510.8 428.8 512.0 427.1C513.3 425.4 514.4 423.7 515.5 421.9C516.6 420.1 517.7 418.3 518.7 416.4C519.7 414.6 520.6 412.7 521.4 410.8C522.3 408.8 523.1 406.9 523.8 404.9C524.6 402.9 525.3 400.9 525.9 398.9C526.5 396.9 527.0 394.8 527.5 392.8C528.0 390.7 528.4 388.7 528.7 386.6C529.0 384.6 529.3 382.5 529.5 380.4C529.7 378.3 529.8 376.3 529.8 374.2C529.9 372.1 529.8 370.1 529.7 368.0C529.6 366.0 529.2 362.9 529.1 361.9" fill="none" stroke="#F03A3A" stroke-width="1.65" stroke-linecap="round" stroke-linejoin="round"/>
<path d="M342.4 468.0C343.4 468.0 346.6 468.0 348.7 468.0C350.7 468.0 352.8 468.0 354.9 468.0C356.9 468.0 359.0 468.0 361.0 468.0C363.1 468.0 365.1 468.1 367.2 468.1C369.2 468.1 371.3 468.1 373.3 468.2C375.4 468.2 377.4 468.2 379.5 468.2C381.5 468.2 383.6 468.3 385.6 468.3C387.7 468.3 389.7 468.3 391.8 468.3C393.9 468.3 395.9 468.4 398.0 468.4C400.1 468.4 402.1 468.4 404.2 468.4C406.3 468.4 408.4 468.4 410.5 468.4C412.6 468.4 414.7 468.5 416.8 468.5C418.9 468.6 421.0 468.7 423.0 468.8C425.1 469.0 427.2 469.2 429.3 469.4C431.3 469.6 433.4 469.9 435.4 470.3C437.5 470.7 439.5 471.1 441.5 471.6C443.4 472.2 445.4 472.8 447.2 473.5C449.1 474.2 450.9 475.0 452.7 476.0C454.4 476.9 456.1 478.0 457.7 479.2C459.4 480.3 460.9 481.6 462.4 482.9C463.9 484.3 465.3 485.7 466.7 487.2C468.1 488.7 469.4 490.3 470.6 492.0C471.9 493.6 473.1 495.3 474.3 497.0C475.5 498.7 476.6 500.5 477.7 502.2C478.8 504.0 479.8 505.8 480.9 507.6C481.9 509.4 482.9 511.2 484.0 513.1C485.0 514.9 486.0 516.7 487.0 518.5C488.1 520.3 489.1 522.1 490.2 523.9C491.2 525.7 492.3 527.5 493.3 529.3C494.4 531.0 495.5 532.8 496.5 534.6C497.5 536.3 498.6 538.1 499.6 539.9C500.6 541.6 501.6 543.4 502.6 545.2C503.6 547.0 504.6 548.8 505.5 550.6C506.4 552.5 507.3 554.3 508.2 556.2C509.0 558.0 509.8 559.9 510.6 561.8C511.3 563.8 512.4 566.7 512.7 567.7" fill="none" stroke="#F03A3A" stroke-width="1.65" stroke-linecap="round" stroke-linejoin="round"/>
<path d="M280.5 463.0C281.5 463.0 284.6 463.1 286.6 463.1C288.7 463.1 290.7 463.1 292.7 463.1C294.8 463.1 296.8 463.1 298.9 463.1C300.9 463.1 303.0 463.1 305.0 463.0C307.0 463.0 309.1 463.0 311.1 463.0C313.2 462.9 315.2 462.9 317.3 462.9C319.3 462.8 321.4 462.8 323.4 462.7C325.4 462.7 327.5 462.7 329.5 462.6C331.6 462.6 333.6 462.6 335.7 462.5C337.7 462.5 339.8 462.5 341.8 462.4C343.9 462.4 345.9 462.4 347.9 462.4C350.0 462.4 352.0 462.3 354.1 462.3C356.1 462.3 358.2 462.3 360.2 462.4C362.2 462.4 364.3 462.4 366.3 462.4C368.4 462.4 370.4 462.5 372.4 462.5C374.5 462.5 376.5 462.6 378.6 462.6C380.6 462.6 382.6 462.6 384.7 462.7C386.7 462.7 388.7 462.7 390.8 462.7C392.8 462.7 394.8 462.7 396.9 462.7C398.9 462.7 401.0 462.7 403.0 462.6C405.0 462.6 407.1 462.5 409.1 462.5C411.1 462.4 413.2 462.3 415.2 462.2C417.2 462.0 419.3 461.9 421.3 461.8C423.4 461.6 425.4 461.4 427.4 461.2C429.5 461.0 431.5 460.7 433.5 460.5C435.6 460.2 437.6 459.9 439.6 459.5C441.7 459.2 443.7 458.8 445.7 458.4C447.8 458.0 449.8 457.5 451.8 457.1C453.8 456.6 455.8 456.0 457.8 455.5C459.8 454.9 461.7 454.3 463.7 453.7C465.6 453.0 467.6 452.3 469.5 451.6C471.4 450.8 473.3 450.1 475.1 449.2C477.0 448.4 478.8 447.5 480.6 446.6C482.4 445.7 484.1 444.7 485.9 443.7C487.6 442.6 489.3 441.6 490.9 440.4C492.6 439.3 494.2 438.1 495.7 436.9C497.3 435.6 498.8 434.3 500.3 433.0C501.7 431.6 503.1 430.2 504.5 428.7C505.8 427.3 507.2 425.7 508.4 424.1C509.6 422.6 510.8 420.9 512.0 419.2C513.1 417.5 514.2 415.8 515.2 414.0C516.2 412.2 517.2 410.4 518.1 408.6C519.0 406.7 519.9 404.8 520.7 402.9C521.5 401.0 522.2 399.1 522.9 397.1C523.5 395.1 524.1 393.1 524.7 391.1C525.2 389.1 525.7 387.1 526.1 385.1C526.5 383.1 526.9 381.0 527.2 379.0C527.5 377.0 527.7 374.9 527.8 372.9C528.0 370.9 528.1 368.8 528.1 366.8C528.1 364.8 528.0 361.8 528.0 360.8" fill="none" stroke="#1A6FDF" stroke-width="1.65" stroke-linecap="round" stroke-linejoin="round"/>
<path d="M280.5 463.0C281.5 463.0 284.6 462.9 286.7 462.8C288.8 462.8 290.8 462.8 292.9 462.7C295.0 462.7 297.0 462.7 299.1 462.7C301.1 462.7 303.2 462.7 305.3 462.7C307.3 462.7 309.4 462.8 311.4 462.8C313.5 462.8 315.5 462.8 317.6 462.9C319.6 462.9 321.7 462.9 323.7 463.0C325.8 463.0 327.9 463.0 329.9 463.1C332.0 463.1 334.0 463.1 336.1 463.1C338.1 463.1 340.2 463.2 342.2 463.2C344.3 463.2 346.3 463.2 348.4 463.2C350.5 463.2 352.5 463.1 354.6 463.1C356.6 463.1 358.7 463.0 360.8 463.0C362.8 462.9 364.9 462.9 367.0 462.8C369.0 462.8 371.1 462.7 373.2 462.6C375.2 462.6 377.3 462.5 379.4 462.5C381.4 462.4 383.5 462.4 385.6 462.4C387.6 462.3 389.7 462.3 391.8 462.3C393.8 462.3 395.9 462.3 398.0 462.4C400.0 462.4 402.1 462.4 404.2 462.5C406.2 462.6 408.3 462.7 410.3 462.8C412.4 463.0 414.5 463.1 416.5 463.3C418.6 463.5 420.6 463.7 422.7 464.0C424.7 464.3 426.8 464.6 428.8 464.9C430.8 465.3 432.9 465.7 434.9 466.2C436.9 466.6 438.8 467.1 440.8 467.7C442.7 468.3 444.6 469.0 446.5 469.8C448.3 470.5 450.2 471.4 451.9 472.3C453.7 473.2 455.4 474.3 457.0 475.4C458.6 476.5 460.2 477.8 461.7 479.1C463.2 480.4 464.7 481.8 466.1 483.3C467.5 484.8 468.9 486.3 470.2 487.9C471.5 489.5 472.8 491.2 474.1 492.9C475.3 494.5 476.5 496.3 477.7 498.0C478.9 499.7 480.1 501.5 481.3 503.2C482.4 505.0 483.6 506.7 484.7 508.5C485.8 510.2 487.0 512.0 488.1 513.7C489.2 515.4 490.3 517.2 491.4 518.9C492.4 520.7 493.5 522.4 494.6 524.2C495.6 526.0 496.7 527.7 497.8 529.5C498.8 531.2 499.8 533.0 500.9 534.8C501.9 536.5 502.9 538.3 504.0 540.1C505.0 541.8 506.0 543.6 507.0 545.4C508.1 547.2 509.1 548.9 510.1 550.7C511.1 552.5 512.1 554.3 513.2 556.1C514.2 557.9 515.7 560.6 516.2 561.5" fill="none" stroke="#1A6FDF" stroke-width="1.65" stroke-linecap="round" stroke-linejoin="round"/>
<path d="M372.6 458.2C373.6 458.2 376.7 458.1 378.7 458.1C380.8 458.1 382.9 458.1 385.0 458.0C387.0 458.0 389.1 458.0 391.2 458.0C393.3 458.0 395.5 457.9 397.6 457.9C399.7 457.9 401.8 457.8 403.9 457.8C406.1 457.7 408.2 457.7 410.3 457.6C412.4 457.5 414.6 457.4 416.7 457.3C418.8 457.2 421.0 457.0 423.1 456.9C425.2 456.7 427.3 456.5 429.4 456.3C431.6 456.1 433.7 455.9 435.8 455.6C437.9 455.3 439.9 455.0 442.0 454.6C444.1 454.3 446.2 453.9 448.2 453.5C450.3 453.1 452.3 452.6 454.3 452.1C456.4 451.6 458.4 451.0 460.4 450.4C462.3 449.8 464.3 449.1 466.3 448.4C468.2 447.7 470.1 446.9 472.0 446.1C473.9 445.3 475.8 444.4 477.7 443.5C479.5 442.5 481.4 441.5 483.2 440.4C485.0 439.4 486.7 438.2 488.5 437.0C490.2 435.9 491.9 434.6 493.5 433.3C495.2 432.0 496.8 430.6 498.3 429.2C499.9 427.8 501.4 426.4 502.8 424.8C504.3 423.3 505.7 421.8 507.0 420.2C508.4 418.5 509.7 416.9 510.9 415.2C512.1 413.5 513.2 411.7 514.3 409.9C515.4 408.1 516.4 406.3 517.3 404.4C518.2 402.5 519.1 400.6 519.9 398.7C520.7 396.7 521.4 394.7 522.0 392.7C522.6 390.7 523.1 388.7 523.6 386.6C524.0 384.6 524.4 382.5 524.7 380.4C525.0 378.4 525.2 376.3 525.3 374.2C525.4 372.1 525.5 370.0 525.4 367.8C525.4 365.7 525.2 363.6 525.0 361.5C524.7 359.5 524.2 356.3 524.0 355.3" fill="none" stroke="#37AD6B" stroke-width="1.65" stroke-linecap="round" stroke-linejoin="round"/>
<path d="M372.6 458.2C373.6 458.2 376.8 458.3 378.9 458.4C381.0 458.4 383.1 458.5 385.1 458.5C387.2 458.6 389.3 458.6 391.4 458.7C393.4 458.8 395.5 458.8 397.6 458.9C399.7 459.0 401.7 459.1 403.8 459.1C405.9 459.2 408.0 459.3 410.1 459.4C412.1 459.5 414.2 459.6 416.3 459.7C418.4 459.8 420.6 459.9 422.7 460.0C424.8 460.1 426.9 460.2 429.0 460.4C431.2 460.6 433.3 460.8 435.4 461.0C437.4 461.3 439.5 461.7 441.5 462.1C443.5 462.6 445.5 463.1 447.4 463.8C449.3 464.5 451.2 465.3 453.0 466.3C454.7 467.2 456.5 468.3 458.1 469.4C459.8 470.6 461.4 471.9 462.9 473.2C464.4 474.6 465.9 476.0 467.3 477.5C468.7 479.1 470.1 480.7 471.4 482.3C472.7 484.0 473.9 485.7 475.1 487.4C476.3 489.1 477.5 490.9 478.7 492.7C479.9 494.4 481.0 496.2 482.2 497.9C483.4 499.7 484.5 501.4 485.7 503.2C486.8 504.9 488.0 506.6 489.1 508.4C490.3 510.1 491.4 511.8 492.6 513.6C493.7 515.3 494.9 517.0 496.0 518.8C497.2 520.5 498.3 522.2 499.4 524.0C500.6 525.7 501.7 527.5 502.9 529.2C504.0 530.9 505.2 532.7 506.3 534.4C507.5 536.2 508.7 537.9 509.8 539.6C511.0 541.3 512.2 543.0 513.4 544.7C514.7 546.4 515.9 548.1 517.2 549.8C518.4 551.4 520.4 553.9 521.0 554.7" fill="none" stroke="#37AD6B" stroke-width="1.65" stroke-linecap="round" stroke-linejoin="round"/>
<path d="M344.6 463.3C345.6 463.3 348.8 463.2 350.8 463.1C352.9 463.1 355.0 463.1 357.1 463.1C359.2 463.0 361.3 463.0 363.3 463.0C365.4 463.0 367.5 463.0 369.6 463.0C371.7 463.0 373.8 463.1 375.9 463.1C378.0 463.1 380.1 463.1 382.1 463.1C384.2 463.1 386.3 463.2 388.4 463.2C390.5 463.2 392.6 463.2 394.7 463.2C396.8 463.2 398.9 463.2 401.0 463.1C403.0 463.1 405.1 463.1 407.2 463.0C409.3 463.0 411.4 462.9 413.5 462.9C415.6 462.8 417.6 462.7 419.7 462.6C421.8 462.5 423.9 462.3 426.0 462.2C428.0 462.0 430.1 461.8 432.2 461.6C434.2 461.4 436.3 461.2 438.3 460.9C440.4 460.6 442.5 460.3 444.5 460.0C446.5 459.7 448.6 459.3 450.6 458.9C452.6 458.5 454.7 458.0 456.7 457.5C458.7 457.1 460.7 456.5 462.7 455.9C464.7 455.4 466.7 454.7 468.6 454.1C470.6 453.4 472.6 452.7 474.5 451.9C476.5 451.1 478.4 450.3 480.4 449.4C482.3 448.6 484.2 447.7 486.1 446.7C488.0 445.8 489.8 444.8 491.7 443.8C493.5 442.8 495.3 441.7 497.0 440.6C498.8 439.5 500.5 438.3 502.1 437.0C503.8 435.8 505.4 434.5 506.9 433.1C508.4 431.7 509.9 430.2 511.2 428.7C512.6 427.2 513.9 425.7 515.2 424.0C516.4 422.4 517.6 420.7 518.7 419.0C519.8 417.2 520.8 415.4 521.7 413.6C522.7 411.8 523.5 409.9 524.3 407.9C525.1 406.0 525.8 404.0 526.4 402.0C527.1 400.0 527.6 398.0 528.1 395.9C528.6 393.9 529.0 391.8 529.4 389.7C529.7 387.6 530.0 385.5 530.2 383.4C530.4 381.3 530.5 379.2 530.6 377.1C530.7 375.0 530.7 372.9 530.6 370.8C530.6 368.8 530.4 366.7 530.2 364.7C530.1 362.6 529.6 359.6 529.5 358.6" fill="none" stroke="#B177DE" stroke-width="1.65" stroke-linecap="round" stroke-linejoin="round"/>
<path d="M344.6 463.3C345.6 463.3 348.8 463.3 350.9 463.3C353.0 463.3 355.0 463.3 357.1 463.3C359.1 463.3 361.2 463.3 363.2 463.3C365.3 463.3 367.3 463.3 369.3 463.3C371.4 463.3 373.4 463.3 375.4 463.3C377.4 463.3 379.5 463.3 381.5 463.3C383.5 463.2 385.6 463.2 387.6 463.2C389.7 463.2 391.7 463.2 393.8 463.1C395.8 463.1 397.9 463.1 400.0 463.0C402.0 463.0 404.1 463.0 406.2 462.9C408.3 462.9 410.4 462.8 412.5 462.8C414.6 462.8 416.8 462.8 418.9 462.8C421.0 462.8 423.1 462.9 425.2 463.0C427.2 463.1 429.3 463.2 431.4 463.4C433.4 463.6 435.4 463.9 437.4 464.2C439.4 464.5 441.4 464.9 443.4 465.4C445.3 465.9 447.2 466.4 449.1 467.1C450.9 467.7 452.8 468.5 454.6 469.3C456.3 470.2 458.1 471.2 459.7 472.2C461.4 473.3 463.0 474.5 464.6 475.7C466.2 477.0 467.7 478.4 469.2 479.8C470.7 481.2 472.1 482.7 473.5 484.2C474.9 485.7 476.3 487.3 477.6 488.9C479.0 490.5 480.3 492.2 481.6 493.8C482.8 495.5 484.1 497.2 485.3 498.9C486.5 500.5 487.7 502.2 488.9 503.9C490.1 505.6 491.3 507.3 492.5 509.0C493.7 510.7 494.8 512.4 496.0 514.1C497.2 515.8 498.4 517.5 499.6 519.2C500.8 520.8 502.0 522.5 503.2 524.2C504.4 525.8 505.6 527.5 506.8 529.1C508.0 530.7 509.2 532.4 510.4 534.0C511.6 535.7 512.9 537.3 514.1 538.9C515.3 540.6 516.6 542.2 517.8 543.8C519.1 545.4 520.3 547.1 521.6 548.7C522.8 550.3 524.1 552.0 525.4 553.6C526.6 555.2 528.6 557.7 529.2 558.5" fill="none" stroke="#B177DE" stroke-width="1.65" stroke-linecap="round" stroke-linejoin="round"/>
<rect x="240.30" y="328.60" width="320.40" height="268.10" fill="none" stroke="#000" stroke-width="1.70"/>
<text transform="translate(240.00 613.70) scale(1 1.080)" text-anchor="middle" font-size="12.80">-10</text>
<text transform="translate(282.72 613.70) scale(1 1.080)" text-anchor="middle" font-size="12.80">-9</text>
<text transform="translate(325.44 613.70) scale(1 1.080)" text-anchor="middle" font-size="12.80">-8</text>
<text transform="translate(368.16 613.70) scale(1 1.080)" text-anchor="middle" font-size="12.80">-7</text>
<text transform="translate(410.88 613.70) scale(1 1.080)" text-anchor="middle" font-size="12.80">-6</text>
<text transform="translate(453.60 613.70) scale(1 1.080)" text-anchor="middle" font-size="12.80">-5</text>
<text transform="translate(496.32 613.70) scale(1 1.080)" text-anchor="middle" font-size="12.80">-4</text>
<text transform="translate(539.04 613.70) scale(1 1.080)" text-anchor="middle" font-size="12.80">-3</text>
<text transform="translate(235.80 333.10) scale(1 1.080)" text-anchor="end" font-size="12.80">0.5</text>
<text transform="translate(235.80 366.61) scale(1 1.080)" text-anchor="end" font-size="12.80">0.4</text>
<text transform="translate(235.80 400.12) scale(1 1.080)" text-anchor="end" font-size="12.80">0.3</text>
<text transform="translate(235.80 433.64) scale(1 1.080)" text-anchor="end" font-size="12.80">0.2</text>
<text transform="translate(235.80 467.15) scale(1 1.080)" text-anchor="end" font-size="12.80">0.1</text>
<text transform="translate(235.80 500.66) scale(1 1.080)" text-anchor="end" font-size="12.80">0.0</text>
<text transform="translate(235.80 534.18) scale(1 1.080)" text-anchor="end" font-size="12.80">-0.1</text>
<text transform="translate(235.80 567.69) scale(1 1.080)" text-anchor="end" font-size="12.80">-0.2</text>
<text transform="translate(235.80 601.20) scale(1 1.080)" text-anchor="end" font-size="12.80">-0.3</text>
<path d="M240.30 596.70v-3.6M283.02 596.70v-3.6M325.74 596.70v-3.6M368.46 596.70v-3.6M411.18 596.70v-3.6M453.90 596.70v-3.6M496.62 596.70v-3.6M539.34 596.70v-3.6M261.66 596.70v-2.2M304.38 596.70v-2.2M347.10 596.70v-2.2M389.82 596.70v-2.2M432.54 596.70v-2.2M475.26 596.70v-2.2M517.98 596.70v-2.2M240.30 328.60h3.6M240.30 345.36h2.2M240.30 362.11h3.6M240.30 378.87h2.2M240.30 395.62h3.6M240.30 412.38h2.2M240.30 429.14h3.6M240.30 445.89h2.2M240.30 462.65h3.6M240.30 479.41h2.2M240.30 496.16h3.6M240.30 512.92h2.2M240.30 529.68h3.6M240.30 546.43h2.2M240.30 563.19h3.6M240.30 579.94h2.2M240.30 596.70h3.6" stroke="#000" stroke-width="1.5" fill="none"/>
<path d="M245.8 341.9H271.7" stroke="#444444" stroke-width="1.60"/>
<text transform="translate(277.60 346.50) scale(1 1.120)" font-size="12.65">Without</text>
<path d="M245.8 360.0H271.7" stroke="#F03A3A" stroke-width="1.60"/>
<text transform="translate(274.70 364.60) scale(1 1.120)" font-size="12.65">2.5mmol/L MBO</text>
<path d="M245.8 378.3H271.7" stroke="#1A6FDF" stroke-width="1.60"/>
<text transform="translate(274.70 382.90) scale(1 1.120)" font-size="12.65">5mmol/L MBO</text>
<path d="M245.8 396.4H271.7" stroke="#37AD6B" stroke-width="1.60"/>
<text transform="translate(274.70 401.00) scale(1 1.120)" font-size="12.65">7.5mmol/L MBO</text>
<path d="M245.8 414.0H271.7" stroke="#B177DE" stroke-width="1.60"/>
<text transform="translate(274.70 418.60) scale(1 1.120)" font-size="12.65">10mmol/L MBO</text>
<text transform="translate(560.10 345.40) scale(1 1.130)" text-anchor="end" font-size="14.70">MBO</text>
<text transform="translate(400.30 631.50) scale(1 1.080)" text-anchor="middle" font-size="14.80">logi(A/cm<tspan font-size="9.18" dy="-6.22">2</tspan><tspan dy="6.22">)</tspan></text>
<text transform="translate(213.30 452.40) rotate(-90) scale(1 0.880)" text-anchor="middle" font-size="16.80">E vs.SCE(V)</text>
</g>
</svg>
</body></html>
